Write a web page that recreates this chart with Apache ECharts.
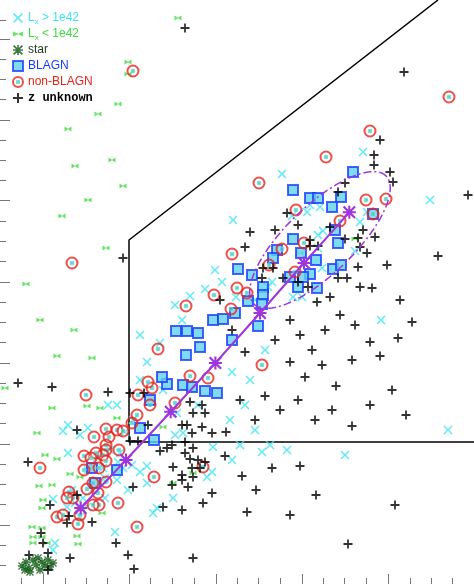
<!DOCTYPE html>
<html><head><meta charset="utf-8">
<script src="https://cdn.jsdelivr.net/npm/echarts@6/dist/echarts.min.js"></script>
<style>html,body{margin:0;padding:0;background:#fff}#c{width:474px;height:584px}</style>
</head><body><div id="c"></div>
<script>
// ---- data (arbitrary colour-colour units; axes carry no labels) ----
const xMajor=[0.433,1.293,2.16,3.02,3.88];
const xMinor=[0.217,0.65,0.867,1.077,1.507,1.727,1.94,2.373,2.587,2.8,3.23,3.447,3.667,4.1,4.31,4.527];
const yMajor=[5.45,4.64,3.84,3.02,2.21,1.40,0.59];
const yMinor=[5.64,5.25,5.05,4.85,4.44,4.24,4.04,3.63,3.43,3.23,2.82,2.62,2.42,2.01,1.81,1.61,1.20,1.00,0.80,0.39,0.19];

const lxHigh=[[3.63,4.32],[2.82,4.10],[2.33,3.64],[3.07,3.72],[3.10,3.79],[3.20,3.77],[2.92,3.68],[3.67,3.72],[3.60,3.62],[3.18,3.49],[3.23,3.53],[3.18,3.36],[3.55,3.33],[3.22,3.16],[2.72,3.02],[2.68,2.97],[2.93,2.87],[3.02,2.87],
[1.08,1.79],[0.63,1.53],[0.80,1.49],[0.88,1.56],[1.17,1.79],[1.25,1.52],[1.33,1.64],[1.63,1.94],[1.77,1.71],[1.83,1.51],[1.75,1.49],[2.13,1.37],[2.12,1.12],[2.07,1.07],[1.47,1.18],[1.32,1.19],[1.23,1.16],[1.40,1.12],[1.17,1.04],[1.05,1.06],[1.28,0.94],[1.47,1.01],[1.73,0.86],[1.53,0.71],[1.57,0.76],[1.05,0.86],[0.83,0.86],[0.72,0.94],[0.75,0.81],[0.67,0.77],[0.53,0.85],[0.87,0.77],[0.80,0.67],[1.20,1.31],[1.10,1.34],[0.97,1.27],[0.88,1.14],[1.03,1.16],[1.18,1.22],[0.68,1.59],[0.68,1.31],[0.92,0.94],[1.15,0.52],[0.55,0.41],[0.53,0.34],
[3.81,2.64],[4.30,3.84],[4.48,1.54],[3.45,1.29],[2.62,1.32],[2.32,1.24],[2.87,1.34],[2.30,1.64],[2.45,1.79],[2.05,2.95],[2.15,3.14],[1.90,2.88],[2.36,2.87],[1.60,2.41],[1.47,2.22],[1.40,2.04],[1.75,2.79],[2.32,2.12],[2.50,2.04],[2.65,2.34],[1.98,1.79],
[2.55,2.84],[2.22,3.02],[1.82,2.64],[1.40,2.49],[2.55,1.54],[2.70,1.39],[2.40,1.39]];
const lxLow=[[1.78,5.66],[1.28,5.22],[1.28,5.10],[1.18,4.80],[0.52,1.76],[0.37,1.51],[0.45,1.29],[0.57,1.25],[1.00,1.76],[0.70,1.10],[0.80,1.07],[0.39,0.98],[0.52,0.99],[0.43,0.84],[1.02,0.71],[0.32,0.57],[0.42,0.56],[1.17,1.66],[1.63,1.57],[1.93,1.11],[1.73,1.01],[0.05,1.96],[0.87,1.78],[0.42,0.76],[0.77,0.48],[0.78,0.40],[0.33,0.47],[0.33,0.41],[0.42,0.47],[0.47,0.41],[3.55,3.45],[3.00,3.31],
[0.98,4.70],[0.68,4.55],[1.12,4.24],[0.75,4.18],[1.23,3.98],[0.88,3.84],[0.62,3.68],[1.06,3.36],[0.26,3.00],[0.40,2.64],[0.74,2.54],[0.57,2.28],[0.92,2.26]];
const stars=[[0.22,0.18],[0.26,0.22],[0.29,0.16],[0.33,0.24],[0.36,0.19],[0.40,0.14],[0.42,0.22],[0.45,0.18],[0.48,0.24],[0.50,0.17],[0.53,0.21],[0.30,0.12],[0.38,0.26],[0.25,0.14]];
const blagn=[[3.53,4.12],[2.93,3.94],[3.10,3.86],[3.18,3.86],[3.41,3.87],[3.32,3.77],[3.35,3.54],[3.38,3.41],[2.93,3.45],[2.77,3.34],[3.01,3.31],[2.73,3.26],[3.16,3.24],[2.38,3.15],[2.52,3.09],[3.33,3.15],[3.41,3.19],[3.10,3.10],[2.90,3.07],[3.03,3.07],[2.98,2.97],[3.17,2.96],[2.63,2.97],[2.63,2.89],[2.62,2.80],[3.73,3.70],[1.67,2.00],[1.83,1.99],[1.92,1.97],[2.05,1.93],[2.17,1.91],[1.50,1.84],[1.40,1.56],[1.54,1.44],[1.17,1.14],[0.92,1.16],[0.95,1.01],
[1.76,2.53],[1.87,2.53],[1.98,2.51],[2.13,2.64],[2.23,2.65],[2.35,2.71],[2.48,2.83],[1.62,2.07],[1.86,2.29],[2.00,2.37],[2.32,2.44],[2.58,2.58]];
const nonBlagn=[[1.33,5.13],[4.49,4.87],[3.26,4.27],[2.59,4.01],[3.66,3.84],[3.86,3.85],[2.96,3.74],[3.40,3.63],[3.04,3.41],[2.82,3.35],[2.69,3.19],[2.32,3.30],[2.95,3.12],[2.37,2.96],[2.47,2.91],[3.73,3.70],[0.86,1.89],[1.38,1.89],[1.52,1.96],[1.50,1.79],[1.75,1.81],[1.32,1.61],[1.37,1.69],[1.06,1.55],[0.94,1.47],[1.09,1.47],[1.17,1.54],[1.23,1.53],[1.06,1.39],[1.06,1.34],[1.03,1.29],[1.19,1.34],[0.84,1.28],[0.96,1.31],[0.91,1.26],[0.99,1.16],[1.06,1.23],[0.84,1.14],[0.40,1.16],[1.54,1.07],[2.03,1.17],[1.06,1.02],[0.93,1.01],[0.87,0.95],[0.98,0.91],[0.69,0.92],[0.73,0.86],[0.67,0.86],[1.18,0.81],[0.99,0.79],[0.93,0.79],[0.57,0.67],[0.63,0.69],[0.78,0.60],[1.37,0.57],[0.80,0.69],[0.72,3.21],
[1.58,2.35],[1.86,2.78],[2.14,2.89],[2.31,2.75],[1.48,2.02],[1.90,2.08],[2.08,2.06],[2.62,2.19],[3.70,4.53]];
const zUnknown=[[1.85,5.56],[4.04,5.12],[4.68,3.89],[3.74,4.29],[3.74,4.19],[3.90,4.12],[3.93,4.02],[3.45,4.01],[3.38,3.92],[2.87,3.71],[2.98,3.59],[2.75,3.54],[2.50,3.52],[3.30,3.57],[3.63,3.54],[3.75,3.47],[3.58,3.46],[3.45,3.45],[3.60,3.37],[3.67,3.31],[3.10,3.38],[3.18,3.38],[3.10,3.44],[2.45,3.37],[2.63,3.16],[2.73,3.16],[2.83,3.06],[2.62,3.06],[3.38,3.06],[3.47,3.06],[3.58,3.17],[3.08,2.97],[3.17,2.82],[3.30,2.87],[3.60,2.97],[3.72,2.96],[2.98,3.02],
[0.52,1.97],[1.08,1.92],[1.30,1.91],[1.44,1.91],[1.90,1.82],[2.02,1.79],[2.05,1.71],[1.93,1.71],[1.48,1.59],[1.82,1.59],[1.87,1.59],[1.92,1.51],[2.02,1.57],[2.12,1.51],[0.77,1.54],[1.30,1.43],[1.38,1.43],[1.60,1.33],[1.67,1.36],[1.72,1.39],[1.85,1.42],[1.93,1.36],[1.85,1.31],[1.98,1.24],[1.90,1.25],[2.05,1.22],[1.73,1.17],[1.92,1.16],[2.00,1.16],[1.82,1.09],[1.93,1.07],[1.82,1.04],[1.88,0.97],[1.72,0.99],[2.12,0.91],[1.33,0.97],[0.28,1.22],[1.63,0.77],[1.82,0.74],[2.03,0.81],[0.92,0.62],[0.69,0.68],[0.77,0.89],[0.50,0.79],[0.18,2.01],[0.67,0.61],[0.41,0.51],[0.43,0.41],[0.48,0.31],[0.29,0.29],[0.70,0.26],[1.16,0.41],[0.48,0.14],[3.48,0.40],[1.28,0.29],[1.93,0.26],[1.34,0.15],
[2.20,2.84],[2.32,2.54],[2.45,2.32],[2.75,2.44],[2.90,2.64],[3.00,2.49],[3.12,2.34],[3.25,2.54],[3.40,2.69],[3.55,2.59],[3.70,2.42],[2.90,2.22],[3.05,2.07],[3.22,2.19],[3.36,1.98],[3.52,2.24],[3.80,2.28],[3.98,2.46],[4.12,2.62],[2.65,1.88],[2.80,1.74],[2.98,1.84],[3.15,1.64],[3.32,1.74],[3.52,1.58],[3.70,1.79],[3.92,1.94],[4.06,1.69],[2.40,1.84],[2.55,1.64],[2.26,1.52],[4.00,2.84],[4.38,3.28],[3.87,3.19],[2.25,1.28],[2.42,1.08],[2.56,0.94],[2.72,1.16],[3.00,1.18],[3.16,0.89],[2.47,0.72],[2.90,0.69],[3.95,0.79],[3.80,4.44],[1.23,3.26]];
const medianTrack=[[0.807,0.76],[1.26,1.24],[1.707,1.723],[2.154,2.21],[2.60,2.71],[3.04,3.21],[3.493,3.717]];
const wedge=[[4.74,1.42],[1.29,1.42],[1.29,3.44],[4.38,5.84]];
const ellipse=[[3.20,3.44,0.92,0.34,44]]; // centre x, centre y, semi-major, semi-minor, angle (deg)

// ---- symbols ----
const P_PLUS='path://M4,0h2v4h4v2h-4v4h-2v-4h-4v-2h4z';
const P_X='path://M0,1.2L1.2,0L5,3.8L8.8,0L10,1.2L6.2,5L10,8.8L8.8,10L5,6.2L1.2,10L0,8.8L3.8,5Z';
const P_STAR='path://M0,1.2L1.2,0L5,3.8L8.8,0L10,1.2L6.2,5L10,8.8L8.8,10L5,6.2L1.2,10L0,8.8L3.8,5Z M4.2,0h1.6v4.2h4.2v1.6h-4.2v4.2h-1.6v-4.2h-4.2v-1.6h4.2z';
const P_BOW='path://M0,0L5,2.2L10,0L10,5L5,2.8L0,5Z';

const CYAN='#3ee4f4', GREEN='#3ddc3d', DKGREEN='#0d5a12', BLUE='#1a3cff', RED='#e8231e', PURPLE='#a035dc';

function ax(kind,pos,vals,len){
  const o={type:'value',position:pos,axisLine:{show:false},axisLabel:{show:false},splitLine:{show:false},
    axisTick:{show:true,inside:true,length:len,customValues:vals,lineStyle:{color:'#777',width:1}}};
  if(kind==='x'){o.min=0;o.max=4.74;} else {o.min=0;o.max=5.84;}
  return o;
}
const chart=echarts.init(document.getElementById('c'),null,{renderer:'canvas'});
const option={
  animation:false,
  grid:{left:0,right:0,top:0,bottom:0,containLabel:false},
  xAxis:[ax('x','bottom',xMajor,10),ax('x','bottom',xMinor,6),ax('x','top',xMajor,10),ax('x','top',xMinor,6)],
  yAxis:[ax('y','left',yMajor,10),ax('y','left',yMinor,6),ax('y','right',yMajor,10),ax('y','right',yMinor,6)],
  legend:{
    orient:'vertical',left:7,top:5,itemWidth:10,itemHeight:10,itemGap:0,
    textStyle:{fontFamily:'Liberation Sans',fontSize:12,lineHeight:16,
      rich:{c:{color:CYAN,fontSize:12,fontFamily:'Liberation Sans'},cs:{color:CYAN,fontSize:8,padding:[8,0,0,0],fontFamily:'Liberation Sans'},
            g:{color:GREEN,fontSize:12,fontFamily:'Liberation Sans'},gs:{color:GREEN,fontSize:8,padding:[8,0,0,0],fontFamily:'Liberation Sans'}}},
    formatter:function(n){
      if(n==='Lx > 1e42') return '{c|L}{cs|x}{c| > 1e42}';
      if(n==='Lx < 1e42') return '{g|L}{gs|x}{g| < 1e42}';
      return n;
    },
    data:[
      {name:'Lx > 1e42',icon:P_X},
      {name:'Lx < 1e42',icon:P_BOW},
      {name:'star',icon:P_STAR,textStyle:{color:'#1e3a1e'}},
      {name:'BLAGN',icon:'rect',textStyle:{color:BLUE}},
      {name:'non-BLAGN',icon:'circle',textStyle:{color:RED}},
      {name:'z unknown',icon:P_PLUS,textStyle:{color:'#000',fontFamily:'Liberation Mono',fontWeight:'bold',fontSize:12}}
    ]
  },
  series:[
    {name:'wedge',type:'line',data:wedge,symbol:'none',lineStyle:{color:'#000',width:1.5},z:1,silent:true},
    {name:'Lx > 1e42',type:'scatter',data:lxHigh,symbol:P_X,symbolSize:9,itemStyle:{color:CYAN},z:2},
    {name:'Lx < 1e42',type:'scatter',data:lxLow,symbol:P_BOW,symbolSize:[7,5],itemStyle:{color:GREEN},z:2},
    {name:'star',type:'scatter',data:stars,symbol:P_STAR,symbolSize:8,itemStyle:{color:DKGREEN},z:2},
    {name:'BLAGN',type:'scatter',data:blagn,symbol:'rect',symbolSize:10,itemStyle:{color:'#5fd2ee',borderColor:BLUE,borderWidth:2},z:3},
    {name:'non-BLAGN',type:'scatter',data:nonBlagn,symbol:'circle',symbolSize:11,
      itemStyle:{color:{type:'radial',x:0.5,y:0.5,r:0.5,colorStops:[{offset:0,color:'#30c8c0'},{offset:0.36,color:'#70d8cc'},{offset:0.42,color:'rgba(255,255,255,0)'},{offset:1,color:'rgba(255,255,255,0)'}]},borderColor:RED,borderWidth:2},z:4},
    {name:'z unknown',type:'scatter',data:zUnknown,symbol:P_PLUS,symbolSize:9,itemStyle:{color:'#000'},z:5},
    {name:'median',type:'line',data:medianTrack,symbol:P_STAR,symbolSize:13,lineStyle:{color:PURPLE,width:2},itemStyle:{color:PURPLE},z:6,silent:true},
    {name:'ellipse',type:'custom',data:ellipse,encode:{x:0,y:1},z:6,silent:true,
      renderItem:function(params,api){
        const cx=api.value(0),cy=api.value(1),a=api.value(2),b=api.value(3),th=api.value(4)*Math.PI/180;
        const pts=[];
        for(let i=0;i<=120;i++){const t=i/120*2*Math.PI;const u=a*Math.cos(t),v=b*Math.sin(t);
          pts.push(api.coord([cx+u*Math.cos(th)-v*Math.sin(th),cy+u*Math.sin(th)+v*Math.cos(th)]));}
        return {type:'polyline',shape:{points:pts},style:{stroke:PURPLE,lineWidth:1.5,lineDash:[8,3,2,3],fill:null}};
      }}
  ]
};
chart.setOption(option);
</script></body></html>
